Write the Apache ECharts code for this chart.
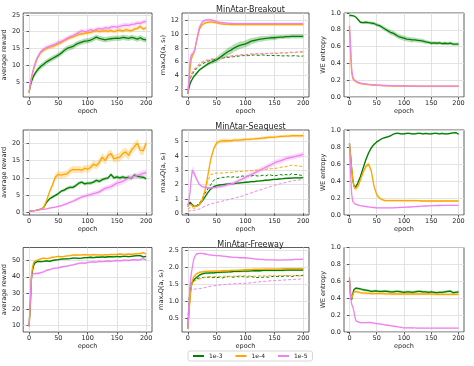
<!DOCTYPE html>
<html><head><meta charset="utf-8">
<script src="https://cdn.jsdelivr.net/npm/echarts@6/dist/echarts.min.js"></script>
<style>html,body{margin:0;padding:0;background:#fff}#c{width:474px;height:366px}</style>
</head><body><div id="c"></div>
<script>
// epochs
const X = [0,2,4,6,8,10,12,15,20,25,30,35,40,45,50,55,60,65,70,75,80,85,90,95,100,105,110,115,120,125,130,135,140,145,150,155,160,165,170,175,180,185,190,195,200];
const xTicks = [0,50,100,150,200];
const legendNames = ['1e-3','1e-4','1e-5'];
const titles = ['MinAtar-Breakout','MinAtar-Seaquest','MinAtar-Freeway'];

// Breakout: average reward
const brG = [1.8,3.5,5.0,6.0,6.8,7.4,8.0,8.7,9.6,10.3,11.0,11.5,12.0,12.5,13.0,13.6,14.4,15.0,15.3,15.6,16.2,16.6,16.9,17.2,17.3,17.5,17.9,18.4,18.0,17.8,17.6,17.8,17.9,18.0,18.1,18.0,18.3,18.2,18.0,18.3,18.1,17.8,18.2,17.7,17.6];
const brO = [1.8,4.0,6.0,7.5,8.8,10.0,11.0,12.3,13.8,14.5,15.0,15.4,15.6,16.0,16.4,16.8,17.3,17.8,18.2,18.5,18.8,19.2,19.4,19.5,19.7,19.8,20.1,20.3,20.0,20.2,20.3,20.1,20.4,20.0,20.3,20.5,20.2,20.6,20.4,20.3,20.8,21.0,21.6,20.8,21.2];
const brV = [1.8,4.2,6.3,7.8,9.2,10.4,11.4,12.6,14.0,14.8,15.3,15.6,16.0,16.3,16.8,17.1,17.5,18.0,18.5,18.8,19.3,19.8,20.3,20.0,20.2,20.6,20.3,20.7,20.9,20.8,21.2,21.0,21.4,21.5,21.4,21.6,21.8,22.0,21.9,22.2,22.3,22.6,22.5,22.9,23.1];
const brGsd = [0.1,0.3,0.5,0.6,0.7,0.7,0.7,0.8,0.8,0.8,0.8,0.8,0.8,0.8,0.8,0.8,0.8,0.8,0.8,0.8,0.8,0.8,0.8,0.8,0.8,0.8,0.8,0.8,0.8,0.8,0.8,0.8,0.8,0.8,0.8,0.8,0.8,0.8,0.8,0.8,0.8,0.8,0.8,0.8,0.8];
const brOsd = [0.1,0.3,0.5,0.6,0.6,0.6,0.6,0.6,0.6,0.6,0.6,0.6,0.6,0.6,0.6,0.6,0.6,0.6,0.6,0.6,0.6,0.6,0.6,0.6,0.6,0.6,0.6,0.6,0.6,0.6,0.6,0.6,0.6,0.6,0.6,0.6,0.6,0.6,0.6,0.6,0.6,0.6,0.6,0.6,0.6];
const brVsd = [0.1,0.3,0.5,0.6,0.7,0.7,0.7,0.7,0.7,0.7,0.7,0.7,0.7,0.7,0.7,0.7,0.7,0.7,0.7,0.7,0.7,0.7,0.7,0.7,0.7,0.7,0.7,0.7,0.7,0.7,0.7,0.7,0.7,0.7,0.7,0.7,0.7,0.7,0.7,0.7,0.7,0.7,0.7,0.7,0.7];

// Breakout: max Q
const bqG = [1.4,2.2,2.8,3.2,3.5,3.8,4.0,4.3,4.8,5.1,5.4,5.7,5.9,6.1,6.3,6.6,6.9,7.2,7.5,7.7,8.0,8.2,8.4,8.5,8.6,8.8,9.0,9.1,9.2,9.3,9.35,9.4,9.45,9.5,9.5,9.55,9.6,9.6,9.65,9.65,9.7,9.7,9.7,9.7,9.7];
const bqO = [1.4,3.0,5.0,6.3,6.9,7.2,7.7,8.9,10.7,11.4,11.65,11.75,11.8,11.75,11.65,11.55,11.5,11.45,11.45,11.4,11.4,11.4,11.4,11.4,11.4,11.4,11.4,11.4,11.4,11.4,11.4,11.4,11.4,11.4,11.4,11.4,11.4,11.4,11.4,11.4,11.4,11.4,11.4,11.4,11.4];
const bqV = [1.4,3.5,6.2,7.0,7.2,7.3,7.7,9.0,11.0,11.8,12.05,12.1,12.1,12.0,11.85,11.75,11.7,11.65,11.6,11.6,11.55,11.55,11.55,11.55,11.55,11.55,11.55,11.55,11.55,11.55,11.55,11.55,11.55,11.55,11.55,11.55,11.55,11.55,11.55,11.55,11.55,11.55,11.55,11.55,11.55];
const bqGsd = [0.05,0.1,0.15,0.2,0.2,0.2,0.2,0.2,0.2,0.2,0.2,0.25,0.3,0.35,0.4,0.45,0.5,0.5,0.55,0.55,0.55,0.55,0.55,0.5,0.5,0.5,0.45,0.45,0.4,0.4,0.4,0.35,0.35,0.35,0.35,0.3,0.3,0.3,0.3,0.3,0.3,0.3,0.3,0.3,0.3];
const bqOsd = [0.05,0.2,0.3,0.3,0.3,0.3,0.3,0.3,0.25,0.2,0.2,0.2,0.2,0.2,0.15,0.15,0.15,0.15,0.15,0.15,0.15,0.15,0.15,0.15,0.15,0.15,0.15,0.15,0.15,0.15,0.15,0.15,0.15,0.15,0.15,0.15,0.15,0.15,0.15,0.15,0.15,0.15,0.15,0.15,0.15];
const bqVsd = [0.05,0.2,0.3,0.3,0.3,0.3,0.3,0.3,0.25,0.25,0.2,0.2,0.2,0.2,0.2,0.15,0.15,0.15,0.15,0.15,0.15,0.15,0.15,0.15,0.15,0.15,0.15,0.15,0.15,0.15,0.15,0.15,0.15,0.15,0.15,0.15,0.15,0.15,0.15,0.15,0.15,0.15,0.15,0.15,0.15];
const bqGd = [1.4,2.6,3.4,3.9,4.2,4.5,4.7,5.0,5.4,5.7,5.9,6.1,6.2,6.3,6.4,6.5,6.55,6.6,6.65,6.7,6.75,6.8,6.85,6.9,6.9,6.9,6.95,7.0,6.95,6.95,7.0,6.95,6.9,6.95,6.9,6.9,6.9,6.85,6.9,6.85,6.85,6.9,6.85,6.8,6.85];
const bqOd = [1.4,2.7,3.6,4.1,4.4,4.7,4.9,5.2,5.6,5.9,6.1,6.2,6.3,6.4,6.45,6.55,6.6,6.7,6.75,6.8,6.85,6.9,6.95,7.0,7.0,7.05,7.1,7.1,7.15,7.1,7.2,7.15,7.2,7.2,7.25,7.2,7.25,7.3,7.25,7.3,7.35,7.3,7.4,7.35,7.45];
const bqVd = [1.4,2.8,3.7,4.2,4.5,4.8,5.0,5.3,5.7,6.0,6.2,6.3,6.4,6.45,6.5,6.6,6.65,6.7,6.8,6.85,6.9,6.95,7.0,7.05,7.05,7.1,7.15,7.15,7.2,7.15,7.25,7.2,7.25,7.25,7.3,7.25,7.3,7.35,7.3,7.4,7.4,7.35,7.45,7.5,7.55];

// Breakout: WE entropy
const ebG = [0.97,0.97,0.97,0.97,0.965,0.96,0.95,0.93,0.89,0.885,0.89,0.885,0.88,0.875,0.86,0.85,0.83,0.81,0.79,0.77,0.76,0.74,0.72,0.71,0.70,0.69,0.685,0.68,0.68,0.675,0.67,0.665,0.655,0.65,0.64,0.645,0.64,0.645,0.635,0.64,0.635,0.64,0.63,0.63,0.63];
const ebO = [0.84,0.55,0.3,0.22,0.2,0.19,0.18,0.17,0.16,0.155,0.15,0.148,0.145,0.143,0.14,0.138,0.136,0.135,0.134,0.133,0.132,0.131,0.13,0.13,0.13,0.129,0.128,0.128,0.128,0.127,0.127,0.127,0.127,0.127,0.127,0.127,0.127,0.127,0.127,0.127,0.127,0.127,0.127,0.127,0.127];
const ebV = [0.85,0.6,0.33,0.24,0.21,0.2,0.185,0.175,0.165,0.16,0.155,0.15,0.148,0.145,0.142,0.14,0.138,0.137,0.136,0.135,0.134,0.133,0.132,0.132,0.131,0.131,0.13,0.13,0.13,0.13,0.13,0.13,0.13,0.13,0.13,0.13,0.13,0.13,0.13,0.13,0.13,0.13,0.13,0.13,0.13];
const ebGsd = [0.01,0.01,0.01,0.01,0.01,0.01,0.01,0.01,0.015,0.015,0.015,0.015,0.02,0.02,0.02,0.02,0.025,0.025,0.025,0.03,0.03,0.03,0.03,0.03,0.03,0.03,0.03,0.03,0.025,0.025,0.025,0.025,0.025,0.02,0.02,0.02,0.02,0.02,0.02,0.02,0.02,0.02,0.02,0.02,0.02];
const ebOsd = [0.01,0.01,0.01,0.01,0.01,0.01,0.01,0.01,0.01,0.01,0.01,0.01,0.01,0.01,0.01,0.01,0.01,0.01,0.01,0.01,0.01,0.01,0.01,0.01,0.01,0.01,0.01,0.01,0.01,0.01,0.01,0.01,0.01,0.01,0.01,0.01,0.01,0.01,0.01,0.01,0.01,0.01,0.01,0.01,0.01];
const ebVsd = ebOsd;

// Seaquest: average reward
const srG = [0.5,0.5,0.55,0.6,0.6,0.65,0.7,0.8,1.0,1.5,3.0,4.0,4.5,5.0,5.5,6.2,6.5,7.0,7.3,7.3,7.8,8.5,8.8,8.3,8.5,8.5,8.8,9.3,9.0,9.5,9.8,10.0,11.0,10.0,10.3,10.0,10.3,10.0,10.2,10.0,10.8,10.5,10.3,10.2,9.8];
const srO = [0.5,0.5,0.55,0.6,0.6,0.65,0.7,0.8,1.0,1.6,3.5,6.0,8.0,10.3,11.0,10.8,11.0,11.2,12.0,12.5,12.3,12.5,12.2,12.8,12.5,13.0,14.0,13.5,14.5,16.0,15.0,16.5,17.0,15.5,15.8,16.0,17.0,17.5,16.5,18.0,19.0,20.0,18.0,17.8,20.0];
const srV = [0.5,0.5,0.55,0.6,0.6,0.65,0.7,0.75,0.9,1.0,1.1,1.3,1.5,1.6,1.8,2.0,2.3,2.6,3.0,3.3,3.7,4.1,4.5,4.8,5.0,5.2,5.5,5.7,6.0,6.5,7.0,7.2,7.5,8.0,8.5,8.7,9.0,9.5,10.0,10.2,10.5,10.7,11.0,11.3,11.5];
const srGsd = [0.05,0.05,0.05,0.05,0.05,0.05,0.05,0.1,0.1,0.2,0.3,0.4,0.4,0.4,0.4,0.4,0.5,0.5,0.5,0.5,0.5,0.5,0.5,0.5,0.5,0.5,0.5,0.5,0.5,0.5,0.5,0.5,0.5,0.5,0.5,0.5,0.5,0.5,0.5,0.5,0.5,0.5,0.5,0.5,0.5];
const srOsd = [0.05,0.05,0.05,0.05,0.05,0.05,0.05,0.1,0.1,0.2,0.4,0.6,0.8,0.9,1.0,1.0,1.0,1.0,1.0,1.0,1.0,1.0,1.0,1.0,1.1,1.1,1.1,1.1,1.2,1.2,1.2,1.2,1.2,1.2,1.2,1.3,1.3,1.3,1.3,1.3,1.3,1.3,1.3,1.3,1.3];
const srVsd = [0.05,0.05,0.05,0.05,0.05,0.05,0.05,0.05,0.1,0.1,0.15,0.2,0.2,0.25,0.3,0.3,0.35,0.4,0.4,0.45,0.5,0.5,0.55,0.6,0.6,0.6,0.65,0.7,0.7,0.7,0.75,0.8,0.8,0.8,0.85,0.9,0.9,0.9,0.9,0.9,0.9,0.9,0.9,0.9,0.9];

// Seaquest: max Q
const sqG = [0.58,0.7,0.77,0.7,0.6,0.5,0.47,0.48,0.6,0.85,1.15,1.45,1.7,1.85,1.92,1.97,2.0,2.02,2.03,2.06,2.07,2.1,2.11,2.14,2.16,2.17,2.2,2.21,2.24,2.25,2.28,2.3,2.31,2.34,2.36,2.37,2.4,2.41,2.43,2.44,2.45,2.46,2.47,2.47,2.48];
const sqO = [0.45,0.6,0.7,0.6,0.5,0.47,0.45,0.5,0.6,0.9,1.6,2.7,3.8,4.5,4.9,5.0,5.05,5.05,5.05,5.05,5.1,5.1,5.1,5.12,5.15,5.15,5.17,5.18,5.2,5.22,5.24,5.26,5.28,5.3,5.3,5.32,5.35,5.36,5.38,5.38,5.4,5.4,5.4,5.4,5.4];
const sqV = [0.47,0.9,1.5,2.4,3.0,2.95,2.7,2.4,2.0,1.86,1.8,1.76,1.76,1.78,1.8,1.85,1.9,1.95,2.0,2.05,2.1,2.2,2.3,2.4,2.5,2.6,2.7,2.8,2.9,3.0,3.1,3.2,3.3,3.4,3.5,3.6,3.65,3.72,3.8,3.85,3.9,3.95,4.0,4.05,4.1];
const sqGsd = [0.03,0.03,0.03,0.03,0.03,0.03,0.03,0.03,0.04,0.05,0.05,0.06,0.06,0.06,0.06,0.06,0.06,0.06,0.06,0.06,0.06,0.06,0.06,0.06,0.06,0.06,0.06,0.06,0.06,0.06,0.06,0.06,0.06,0.06,0.06,0.06,0.06,0.06,0.06,0.06,0.06,0.06,0.06,0.06,0.06];
const sqOsd = [0.03,0.03,0.03,0.03,0.03,0.03,0.03,0.05,0.05,0.08,0.1,0.15,0.15,0.15,0.15,0.15,0.15,0.15,0.12,0.12,0.12,0.12,0.1,0.1,0.1,0.1,0.1,0.1,0.1,0.1,0.1,0.1,0.1,0.1,0.1,0.1,0.1,0.1,0.1,0.1,0.1,0.1,0.1,0.1,0.1];
const sqVsd = [0.05,0.1,0.15,0.2,0.25,0.25,0.2,0.15,0.1,0.1,0.1,0.1,0.1,0.1,0.1,0.12,0.12,0.14,0.14,0.15,0.15,0.15,0.16,0.16,0.17,0.17,0.18,0.18,0.18,0.18,0.18,0.18,0.18,0.18,0.18,0.18,0.18,0.18,0.18,0.18,0.18,0.18,0.18,0.18,0.18];
const sqGd = [0.5,0.6,0.65,0.6,0.5,0.45,0.45,0.5,0.7,1.0,1.4,1.7,2.0,2.3,2.4,2.45,2.5,2.5,2.55,2.5,2.55,2.5,2.55,2.6,2.55,2.6,2.6,2.65,2.6,2.6,2.65,2.6,2.7,2.65,2.6,2.65,2.7,2.65,2.7,2.65,2.75,2.7,2.7,2.65,2.65];
const sqOd = [0.3,0.35,0.4,0.4,0.38,0.35,0.35,0.4,0.6,1.0,1.6,2.3,2.7,2.75,2.8,2.8,2.8,2.82,2.85,2.85,2.88,2.9,2.9,2.92,2.95,2.95,2.97,3.0,3.0,3.02,3.05,3.05,3.1,3.1,3.12,3.15,3.2,3.22,3.25,3.3,3.35,3.32,3.3,3.28,3.25];
const sqVd = [0.16,0.16,0.17,0.18,0.18,0.2,0.22,0.25,0.3,0.4,0.5,0.58,0.65,0.7,0.75,0.8,0.85,0.9,0.95,1.0,1.05,1.1,1.15,1.2,1.28,1.35,1.42,1.5,1.56,1.62,1.68,1.75,1.82,1.88,1.95,2.0,2.05,2.1,2.15,2.2,2.25,2.28,2.3,2.33,2.35];

// Seaquest: WE entropy
const esG = [0.84,0.7,0.55,0.42,0.35,0.32,0.33,0.37,0.45,0.55,0.65,0.73,0.79,0.83,0.86,0.88,0.9,0.91,0.92,0.93,0.95,0.96,0.96,0.955,0.955,0.96,0.96,0.955,0.955,0.96,0.96,0.955,0.96,0.955,0.955,0.96,0.96,0.955,0.96,0.955,0.955,0.96,0.965,0.97,0.95];
const esO = [0.84,0.7,0.55,0.42,0.35,0.31,0.3,0.33,0.41,0.5,0.57,0.6,0.52,0.34,0.24,0.2,0.18,0.17,0.17,0.17,0.17,0.17,0.17,0.17,0.17,0.17,0.17,0.17,0.17,0.17,0.165,0.165,0.165,0.165,0.165,0.165,0.165,0.165,0.165,0.165,0.165,0.165,0.165,0.165,0.165];
const esV = [0.84,0.5,0.25,0.16,0.14,0.13,0.125,0.12,0.11,0.105,0.1,0.095,0.09,0.088,0.085,0.085,0.085,0.085,0.085,0.085,0.085,0.087,0.088,0.09,0.09,0.092,0.094,0.096,0.098,0.1,0.102,0.104,0.106,0.108,0.11,0.11,0.112,0.112,0.113,0.113,0.114,0.114,0.114,0.114,0.114];
const esGsd = [0.01,0.01,0.015,0.015,0.02,0.02,0.02,0.02,0.02,0.02,0.02,0.02,0.02,0.015,0.015,0.01,0.01,0.01,0.01,0.01,0.01,0.01,0.01,0.01,0.01,0.01,0.01,0.01,0.01,0.01,0.01,0.01,0.01,0.01,0.01,0.01,0.01,0.01,0.01,0.01,0.01,0.01,0.01,0.01,0.01];
const esOsd = [0.01,0.01,0.015,0.015,0.02,0.02,0.02,0.02,0.02,0.02,0.025,0.025,0.025,0.02,0.02,0.015,0.015,0.012,0.012,0.012,0.012,0.012,0.012,0.012,0.012,0.012,0.012,0.012,0.012,0.012,0.012,0.012,0.012,0.012,0.012,0.012,0.012,0.012,0.012,0.012,0.012,0.012,0.012,0.012,0.012];
const esVsd = [0.01,0.01,0.01,0.01,0.008,0.008,0.008,0.008,0.008,0.008,0.008,0.008,0.008,0.008,0.008,0.008,0.008,0.008,0.008,0.008,0.008,0.008,0.008,0.008,0.008,0.008,0.008,0.008,0.008,0.008,0.008,0.008,0.008,0.008,0.008,0.008,0.008,0.008,0.008,0.008,0.008,0.008,0.008,0.008,0.008];

// Freeway: average reward
const frG = [9.5,20,38,44,47,48.5,49,49.5,49.3,49.5,49.8,49.5,50.0,50.3,50.5,50.8,51.0,51.0,51.2,51.5,51.5,51.3,51.5,51.8,51.8,52.0,51.8,52.0,52.0,52.2,52.0,52.3,52.3,52.2,52.5,52.3,52.5,52.6,52.4,52.6,52.8,53.0,53.0,52.2,52.5];
const frO = [9.5,22,40,46,49,49.5,50,50.5,51,51.5,51.2,51.5,52,52.2,52.5,52.3,52.5,52.8,53.0,53.3,53.5,53.3,53.5,53.6,53.5,53.4,53.6,53.5,53.5,53.3,53.6,53.5,53.8,53.6,53.8,54.0,53.8,53.7,54.0,53.8,54.0,54.2,54.2,54.8,54.0];
const frV = [9.5,25,40,41.5,41.5,42,42,42,42.5,43,44,44.3,45,45.3,45.5,46,46.3,46.5,47,47.3,47.8,48.2,48.5,48.3,48.8,49,49.2,49,49.5,49.3,49.5,49.7,49.5,49.8,50,49.8,50,50.2,50,50.3,50.5,50.3,50.6,51.2,50.3];
const frGsd = [0.3,1.0,1.0,0.8,0.6,0.5,0.5,0.5,0.5,0.5,0.5,0.5,0.5,0.5,0.5,0.5,0.5,0.5,0.5,0.5,0.5,0.5,0.5,0.5,0.5,0.5,0.5,0.5,0.5,0.5,0.5,0.5,0.5,0.5,0.5,0.5,0.5,0.5,0.5,0.5,0.5,0.5,0.5,0.5,0.5];
const frOsd = frGsd;
const frVsd = [0.3,1.0,1.0,0.8,0.6,0.6,0.6,0.6,0.6,0.6,0.6,0.6,0.6,0.6,0.6,0.6,0.6,0.6,0.6,0.6,0.6,0.6,0.6,0.6,0.6,0.6,0.6,0.6,0.6,0.6,0.6,0.6,0.6,0.6,0.6,0.6,0.6,0.6,0.6,0.6,0.6,0.6,0.6,0.6,0.6];

// Freeway: max Q
const fqG = [0.2,0.7,1.2,1.45,1.55,1.6,1.65,1.7,1.76,1.8,1.82,1.82,1.83,1.83,1.84,1.84,1.85,1.85,1.86,1.86,1.87,1.87,1.87,1.88,1.88,1.88,1.89,1.89,1.89,1.89,1.9,1.9,1.9,1.9,1.9,1.9,1.9,1.9,1.91,1.91,1.91,1.91,1.91,1.91,1.91];
const fqO = [0.2,0.6,1.1,1.4,1.6,1.7,1.75,1.8,1.84,1.86,1.87,1.87,1.88,1.88,1.88,1.88,1.89,1.89,1.89,1.9,1.9,1.9,1.91,1.91,1.92,1.92,1.92,1.93,1.93,1.93,1.93,1.94,1.94,1.94,1.94,1.94,1.94,1.95,1.95,1.95,1.95,1.95,1.95,1.95,1.95];
const fqV = [0.2,0.8,1.5,1.8,2.0,2.2,2.3,2.38,2.4,2.4,2.38,2.36,2.35,2.34,2.33,2.33,2.32,2.31,2.3,2.29,2.28,2.28,2.27,2.27,2.27,2.26,2.25,2.24,2.23,2.22,2.22,2.21,2.21,2.21,2.21,2.2,2.2,2.21,2.21,2.21,2.21,2.22,2.22,2.22,2.23];
const fqGsd = [0.02,0.04,0.04,0.03,0.03,0.03,0.03,0.03,0.03,0.03,0.03,0.03,0.03,0.03,0.03,0.03,0.03,0.03,0.03,0.03,0.03,0.03,0.03,0.03,0.03,0.03,0.03,0.03,0.03,0.03,0.03,0.03,0.03,0.03,0.03,0.03,0.03,0.03,0.03,0.03,0.03,0.03,0.03,0.03,0.03];
const fqOsd = fqGsd;
const fqVsd = [0.02,0.04,0.04,0.02,0.02,0.02,0.02,0.02,0.02,0.02,0.02,0.02,0.02,0.02,0.02,0.02,0.02,0.02,0.02,0.02,0.02,0.02,0.02,0.02,0.02,0.02,0.02,0.02,0.02,0.02,0.02,0.02,0.02,0.02,0.02,0.02,0.02,0.02,0.02,0.02,0.02,0.02,0.02,0.02,0.02];
const fqGd = [0.3,1.0,1.4,1.55,1.6,1.62,1.63,1.65,1.68,1.69,1.7,1.7,1.7,1.69,1.69,1.7,1.68,1.7,1.72,1.71,1.7,1.72,1.71,1.72,1.7,1.71,1.72,1.7,1.69,1.7,1.7,1.71,1.7,1.72,1.73,1.72,1.72,1.73,1.74,1.73,1.72,1.74,1.75,1.74,1.76];
const fqOd = [0.3,1.0,1.35,1.5,1.55,1.58,1.6,1.62,1.65,1.67,1.7,1.71,1.72,1.72,1.72,1.72,1.73,1.73,1.73,1.73,1.73,1.74,1.74,1.74,1.74,1.74,1.73,1.73,1.73,1.74,1.74,1.74,1.74,1.75,1.74,1.75,1.75,1.75,1.75,1.75,1.75,1.75,1.74,1.74,1.74];
const fqVd = [0.3,1.0,1.3,1.38,1.36,1.35,1.35,1.36,1.37,1.38,1.4,1.42,1.44,1.45,1.46,1.47,1.48,1.49,1.5,1.5,1.51,1.51,1.52,1.52,1.52,1.53,1.54,1.55,1.56,1.57,1.58,1.58,1.59,1.6,1.6,1.61,1.61,1.62,1.62,1.63,1.63,1.64,1.64,1.65,1.65];

// Freeway: WE entropy
const efG = [0.62,0.45,0.38,0.45,0.5,0.51,0.52,0.515,0.51,0.5,0.495,0.49,0.48,0.485,0.485,0.48,0.48,0.485,0.48,0.475,0.475,0.48,0.48,0.475,0.47,0.475,0.475,0.47,0.475,0.48,0.48,0.475,0.475,0.47,0.475,0.47,0.465,0.47,0.47,0.475,0.48,0.485,0.465,0.47,0.475];
const efO = [0.62,0.45,0.4,0.42,0.47,0.48,0.48,0.47,0.465,0.46,0.46,0.458,0.455,0.455,0.455,0.455,0.455,0.452,0.452,0.45,0.45,0.45,0.45,0.45,0.45,0.45,0.45,0.45,0.45,0.45,0.45,0.45,0.45,0.45,0.448,0.448,0.445,0.445,0.445,0.445,0.445,0.445,0.445,0.445,0.445];
const efV = [0.65,0.42,0.33,0.3,0.25,0.18,0.13,0.115,0.11,0.11,0.11,0.115,0.11,0.105,0.1,0.095,0.09,0.085,0.08,0.075,0.07,0.065,0.06,0.055,0.05,0.05,0.05,0.05,0.048,0.047,0.046,0.045,0.045,0.045,0.045,0.045,0.045,0.045,0.045,0.045,0.045,0.045,0.045,0.045,0.045];
const efGsd = [0.01,0.015,0.015,0.015,0.015,0.015,0.015,0.015,0.015,0.015,0.015,0.015,0.015,0.015,0.015,0.015,0.015,0.015,0.015,0.015,0.015,0.015,0.015,0.015,0.015,0.015,0.015,0.015,0.015,0.015,0.015,0.015,0.015,0.015,0.015,0.015,0.015,0.015,0.015,0.015,0.015,0.015,0.015,0.015,0.015];
const efOsd = efGsd;
const efVsd = [0.01,0.01,0.01,0.01,0.008,0.008,0.008,0.008,0.008,0.008,0.008,0.008,0.008,0.008,0.008,0.008,0.008,0.008,0.008,0.008,0.008,0.008,0.008,0.008,0.008,0.008,0.008,0.008,0.008,0.008,0.008,0.008,0.008,0.008,0.008,0.008,0.008,0.008,0.008,0.008,0.008,0.008,0.008,0.008,0.008];

// y-axis ranges and ticks
const yRanges = [[0.5,25.6],[0.88,13.1],[0,1],[-0.66,23.8],[-0.12,5.8],[0,1],[6,58],[0.1,2.57],[0,1]];
const yTicks = [[5,10,15,20,25],[2,4,6,8,10,12],[0,0.2,0.4,0.6,0.8,1.0],[0,5,10,15,20],[0,1,2,3,4,5],[0,0.2,0.4,0.6,0.8,1.0],[10,20,30,40,50],[0.5,1.0,1.5,2.0,2.5],[0,0.2,0.4,0.6,0.8,1.0]];
const yDecimals = [0,0,1,0,0,1,0,1,1];
const yNames = ['average reward','maxₐQ(a, sₜ)','WE entropy'];

// ---- build ----
const COL = ['#008000','#ffa500','#ee82ee'];
const panelLines = [
  [[brG,brGsd,0,false],[brO,brOsd,1,false],[brV,brVsd,2,false]],
  [[bqGd,null,0,true],[bqOd,null,1,true],[bqVd,null,2,true],[bqG,bqGsd,0,false],[bqO,bqOsd,1,false],[bqV,bqVsd,2,false]],
  [[ebG,ebGsd,0,false],[ebO,ebOsd,1,false],[ebV,ebVsd,2,false]],
  [[srG,srGsd,0,false],[srO,srOsd,1,false],[srV,srVsd,2,false]],
  [[sqGd,null,0,true],[sqOd,null,1,true],[sqVd,null,2,true],[sqG,sqGsd,0,false],[sqO,sqOsd,1,false],[sqV,sqVsd,2,false]],
  [[esG,esGsd,0,false],[esO,esOsd,1,false],[esV,esVsd,2,false]],
  [[frG,frGsd,0,false],[frO,frOsd,1,false],[frV,frVsd,2,false]],
  [[fqGd,null,0,true],[fqOd,null,1,true],[fqVd,null,2,true],[fqG,fqGsd,0,false],[fqO,fqOsd,1,false],[fqV,fqVsd,2,false]],
  [[efG,efGsd,0,false],[efO,efOsd,1,false],[efV,efVsd,2,false]]
];

const gLeft = [23,182,344], gWidth = [129,127,120];
const gTop = [13,130,247.5], gHeight = [84,85,84.5];
const FONT = 'DejaVu Sans';
const TXT = '#262626';

const grids=[], xAxes=[], yAxes=[], series=[], titleCfg=[];
for (let p=0;p<9;p++){
  const r=Math.floor(p/3), c=p%3;
  grids.push({left:gLeft[c], top:gTop[r], width:gWidth[c], height:gHeight[r], show:true, borderColor:'#333', borderWidth:0.8, containLabel:false});
  xAxes.push({gridIndex:p, type:'value', min:-10, max:210,
    axisLine:{show:false}, 
    axisTick:{show:true, customValues:xTicks, length:2.5, lineStyle:{color:'#333',width:0.8}},
    axisLabel:{customValues:xTicks, fontSize:6.5, color:TXT, margin:3, fontFamily:FONT},
    splitLine:{show:true, lineStyle:{color:'#dcdcdc', width:0.8}},
    name:'epoch', nameLocation:'middle', nameGap:11, nameTextStyle:{fontSize:6.5, color:TXT, fontFamily:FONT}});
  const d=yDecimals[p];
  yAxes.push({gridIndex:p, type:'value', min:yRanges[p][0], max:yRanges[p][1],
    axisLine:{show:false},
    axisTick:{show:true, customValues:yTicks[p], length:2.5, lineStyle:{color:'#333',width:0.8}},
    axisLabel:{customValues:yTicks[p], fontSize:6.5, color:TXT, margin:3, fontFamily:FONT, formatter:v=>Number(v).toFixed(d)},
    splitLine:{show:true, lineStyle:{color:'#dcdcdc', width:0.8}},
    name:yNames[c], nameLocation:'middle', nameRotate:90, nameGap:c===0?13:(c===1?15:16), nameTextStyle:{fontSize:6.5, color:TXT, fontFamily:FONT}});
  // bands first
  panelLines[p].forEach(([y,sd,ci])=>{
    if(!sd) return;
    series.push({type:'custom', xAxisIndex:p, yAxisIndex:p, silent:true, z:1, animation:false, clip:true,
      data:[[X[0],y[0]]],
      renderItem:(params,api)=>{
        const up = X.map((x,k)=>api.coord([x, y[k]+sd[k]]));
        const lo = X.map((x,k)=>api.coord([x, y[k]-sd[k]])).reverse();
        return {type:'polygon', shape:{points:up.concat(lo)}, style:{fill:COL[ci], opacity:0.28}};
      }});
  });
  panelLines[p].forEach(([y,sd,ci,dash])=>{
    series.push({type:'line', name:legendNames[ci], xAxisIndex:p, yAxisIndex:p, z:dash?2:3,
      data:X.map((x,k)=>[x,y[k]]), showSymbol:false, symbol:'none', animation:false, silent:true,
      lineStyle:{color:COL[ci], width:dash?1.0:1.3, type:dash?[3,2]:'solid'}, itemStyle:{color:COL[ci]}});
  });
}
for (let r=0;r<3;r++){
  titleCfg.push({text:titles[r], left:gLeft[1]+gWidth[1]/2, top:gTop[r]-12, textAlign:'center',
    textStyle:{fontSize:8, fontWeight:'normal', color:TXT, fontFamily:FONT}});
}

const chart = echarts.init(document.getElementById('c'), null, {renderer:'canvas'});
chart.setOption({
  animation:false,
  backgroundColor:'#fff',
  title:titleCfg,
  grid:grids, xAxis:xAxes, yAxis:yAxes, series:series,
  legend:{data:legendNames, left:188, top:351, itemWidth:11, itemHeight:2, icon:'rect', itemGap:13,
    padding:[2,5,2,5], borderColor:'#ccc', borderWidth:0.8, borderRadius:2,
    textStyle:{fontSize:6, color:TXT, fontFamily:FONT}}
});
</script></body></html>
